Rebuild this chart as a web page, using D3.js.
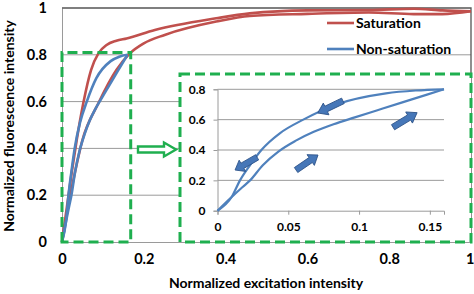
<!DOCTYPE html>
<html>
<head>
<meta charset="utf-8">
<script src="https://cdn.jsdelivr.net/npm/d3@7"></script>
<style>
  body { margin: 0; background: #fff; }
  svg text { font-family: Lato, "Open Sans", sans-serif; font-weight: bold; fill: #000; }
</style>
</head>
<body>
<div id="chart"></div>
<script>
// 主图数据 (normalized excitation -> fluorescence)
const satUp = [[0,0],[0.012,0.15],[0.024,0.3],[0.036,0.436],[0.052,0.593],[0.071,0.735],[0.089,0.806],[0.109,0.842],[0.133,0.86],[0.158,0.87],[0.227,0.906],[0.377,0.956],[0.459,0.977],[0.6,0.99],[0.75,0.991],[0.86,0.997],[0.93,0.99],[1,0.986]];
const satDown = [[0,0],[0.015,0.15],[0.032,0.3],[0.05,0.436],[0.089,0.593],[0.133,0.735],[0.166,0.806],[0.2,0.849],[0.251,0.885],[0.377,0.942],[0.459,0.966],[0.6,0.975],[0.75,0.981],[0.86,0.974],[0.93,0.974],[1,0.986]];
// 非饱和 (两条支路)
const nonUp = [[0,0],[0.010,0.09],[0.0159,0.2],[0.023,0.3],[0.031,0.4],[0.044,0.51],[0.0606,0.6],[0.084,0.7],[0.119,0.773],[0.14,0.792],[0.16,0.8]];
const nonDown = [[0,0],[0.010,0.09],[0.018,0.158],[0.023,0.2],[0.032,0.3],[0.043,0.39],[0.055,0.46],[0.068,0.52],[0.082,0.57],[0.097,0.615],[0.113,0.662],[0.13,0.712],[0.148,0.765],[0.16,0.8]];

const yTicks = [0, 0.2, 0.4, 0.6, 0.8, 1];
const xTicks = [0, 0.2, 0.4, 0.6, 0.8, 1];
const insetYTicks = [0, 0.2, 0.4, 0.6, 0.8];
const insetXTicks = [0, 0.05, 0.1, 0.15];
const legendNames = ["Saturation", "Non-saturation"];
// 插图里的方向箭头 [x0,y0,x1,y1] (尾 -> 头)
const dirArrows = [[0.0886,0.724,0.0708,0.644],[0.028,0.352,0.0124,0.268],[0.0555,0.268,0.071,0.367],[0.124,0.55,0.141,0.646]];
const zoomBox = [0.168, 0.81]; // 绿色虚线框

const W = 474, H = 294;
const red = "#c0504d", blue = "#4f81bd", green = "#1faf4f";

const svg = d3.select("#chart").append("svg").attr("width", W).attr("height", H);

const x = d3.scaleLinear().domain([0, 1]).range([62, 471]);
const y = d3.scaleLinear().domain([0, 1]).range([242, 8]);

// 网格线
svg.append("g").selectAll("line").data(yTicks.slice(1, -1)).enter().append("line")
  .attr("x1", x(0)).attr("x2", x(1))
  .attr("y1", d => y(d)).attr("y2", d => y(d))
  .attr("stroke", "#9a9a9a").attr("stroke-width", 1);

// 坐标轴文字
const yAxis = svg.append("g").attr("transform", "translate(" + x(0) + ",0)")
  .call(d3.axisLeft(y).tickValues(yTicks).tickFormat(d3.format("")).tickSize(0).tickPadding(15));
yAxis.select(".domain").attr("stroke", "#9a9a9a");
yAxis.selectAll("text").style("font-size", "14.5px");

const xAxis = svg.append("g").attr("transform", "translate(0," + y(0) + ")")
  .call(d3.axisBottom(x).tickValues(xTicks).tickFormat(d3.format("")).tickSize(0).tickPadding(12));
xAxis.select(".domain").attr("stroke", "#9a9a9a");
xAxis.selectAll("text").style("font-size", "14.5px");
// 最右边的 "1" 别被裁掉
xAxis.selectAll("text").filter(d => d === 1).attr("text-anchor", "end").attr("x", 3);

// 边框
svg.append("path")
  .attr("d", "M" + x(0) + "," + y(1) + "H" + x(1) + "V" + y(0))
  .attr("fill", "none").attr("stroke", "#555").attr("stroke-width", 1.3);

// 曲线
const line = d3.line().x(d => x(d[0])).y(d => y(d[1])).curve(d3.curveMonotoneX);
[satUp, satDown].forEach(s => {
  svg.append("path").attr("d", line(s)).attr("fill", "none").attr("stroke", red).attr("stroke-width", 2.6);
});
[nonUp, nonDown].forEach(s => {
  svg.append("path").attr("d", line(s)).attr("fill", "none").attr("stroke", blue).attr("stroke-width", 2.6);
});

// 绿色虚线框1
svg.append("path")
  .attr("d", "M" + x(0) + "," + y(0) + "V" + y(zoomBox[1]) + "H" + x(zoomBox[0]) + "V" + y(0) + "Z")
  .attr("fill", "none").attr("stroke", green).attr("stroke-width", 3).attr("stroke-dasharray", "10,5");

// 插图
const ix = d3.scaleLinear().domain([0, 0.16]).range([217.5, 444]);
const iy = d3.scaleLinear().domain([0, 0.8]).range([210.7, 89.3]);

svg.append("rect").attr("x", 180).attr("y", 74).attr("width", 291).attr("height", 168)
  .attr("fill", "#fff").attr("stroke", green).attr("stroke-width", 3).attr("stroke-dasharray", "10,5");

svg.append("g").selectAll("line").data(insetYTicks.slice(1)).enter().append("line")
  .attr("x1", ix(0)).attr("x2", ix(0.16))
  .attr("y1", d => iy(d)).attr("y2", d => iy(d))
  .attr("stroke", "#9a9a9a");

const iyAxis = svg.append("g").attr("transform", "translate(" + ix(0) + ",0)")
  .call(d3.axisLeft(iy).tickValues(insetYTicks).tickFormat(d3.format("")).tickSize(4).tickPadding(8));
iyAxis.selectAll("line,.domain").attr("stroke", "#9a9a9a");
iyAxis.selectAll("text").style("font-size", "12px");

const ixAxis = svg.append("g").attr("transform", "translate(0," + iy(0) + ")")
  .call(d3.axisBottom(ix).tickValues(insetXTicks).tickFormat(d3.format("")).tickSize(4).tickPadding(8));
ixAxis.selectAll("line,.domain").attr("stroke", "#9a9a9a");
ixAxis.selectAll("text").style("font-size", "12px");

const iline = d3.line().x(d => ix(d[0])).y(d => iy(d[1])).curve(d3.curveMonotoneX);
[nonUp, nonDown].forEach(s => {
  svg.append("path").attr("d", iline(s)).attr("fill", "none").attr("stroke", blue).attr("stroke-width", 2.2);
});

// 方向箭头
svg.append("g").selectAll("path").data(dirArrows).enter().append("path")
  .attr("d", "M0,-3L18,-3L18,-6.5L27,0L18,6.5L18,3L0,3Z")
  .attr("transform", d => {
    const x0 = ix(d[0]), y0 = iy(d[1]), x1 = ix(d[2]), y1 = iy(d[3]);
    const a = Math.atan2(y1 - y0, x1 - x0) * 180 / Math.PI;
    const s = Math.hypot(x1 - x0, y1 - y0) / 27;
    return "translate(" + x0 + "," + y0 + ")rotate(" + a + ")scale(" + s + ",1)";
  })
  .attr("fill", "#4677b8").attr("stroke", "#2c5288").attr("stroke-width", 0.8);

// 空心绿色箭头
svg.append("path")
  .attr("d", "M138,146.5H164V142.5L176,149.5L164,156.5V152.5H138Z")
  .attr("fill", "#fff").attr("stroke", green).attr("stroke-width", 2.4);

// 图例
const legend = svg.append("g").selectAll("g").data(legendNames).enter().append("g")
  .attr("transform", (d, i) => "translate(327," + (23 + i * 26) + ")");
legend.append("line").attr("x1", 0).attr("x2", 27).attr("y1", 0).attr("y2", 0)
  .attr("stroke", (d, i) => i ? blue : red).attr("stroke-width", 2.6);
legend.append("text").attr("x", 29).attr("y", 5).style("font-size", "14px").text(d => d);

// 轴标题
svg.append("text").attr("x", 266).attr("y", 288).attr("text-anchor", "middle")
  .style("font-size", "14px").text("Normalized excitation intensity");
svg.append("text").attr("transform", "translate(14,126)rotate(-90)").attr("text-anchor", "middle")
  .style("font-size", "14px").text("Normalized fluorescence intensity");
</script>
</body>
</html>
